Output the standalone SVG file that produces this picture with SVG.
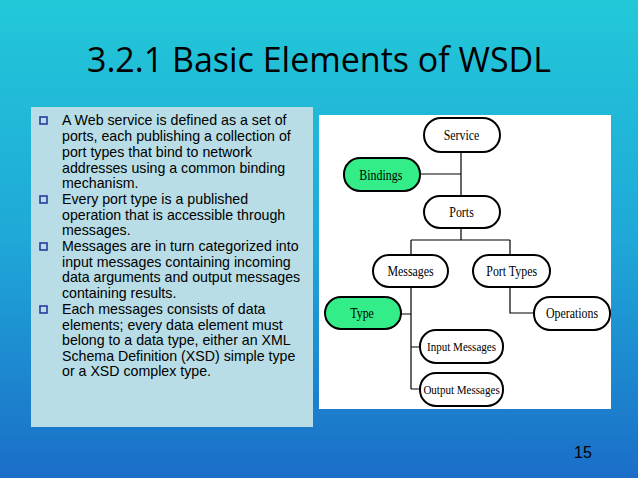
<svg xmlns="http://www.w3.org/2000/svg" width="638" height="478" viewBox="0 0 638 478">
<defs>
<linearGradient id="bg" x1="0" y1="0" x2="0" y2="1">
<stop offset="0" stop-color="#22c8d8"/><stop offset="0.5" stop-color="#1fa8d8"/><stop offset="1" stop-color="#1b6ec8"/>
</linearGradient>
</defs>
<style>
.n rect{fill:#fff;stroke:#000;stroke-width:2}
.g rect{fill:#33ee88}
.n text{font-family:"Liberation Serif",serif;font-size:14px;text-anchor:middle;transform:scaleX(0.85)}
.n text.s{font-size:13px}
.b{font-family:"Liberation Sans",sans-serif;font-size:14.2px;fill:#000}
.q{fill:none;stroke:#2a3aa0;stroke-width:1.6}
#c path{stroke:#000;stroke-width:1.2;fill:none}
</style>
<rect width="638" height="478" fill="url(#bg)"/>
<text x="319" y="72" font-family="Open Sans,sans-serif" font-size="34" text-anchor="middle" fill="#000">3.2.1 Basic Elements of WSDL</text>
<rect x="31" y="107" width="282" height="320" fill="#b8dde6"/>
<rect x="319" y="115" width="292" height="294" fill="#fff"/>
<g class="b">
<text x="62" y="125">A Web service is defined as a set of</text>
<text x="62" y="141">ports, each publishing a collection of</text>
<text x="62" y="157">port types that bind to network</text>
<text x="62" y="173">addresses using a common binding</text>
<text x="62" y="188">mechanism.</text>
<text x="62" y="204">Every port type is a published</text>
<text x="62" y="220">operation that is accessible through</text>
<text x="62" y="235">messages.</text>
<text x="62" y="251">Messages are in turn categorized into</text>
<text x="62" y="267">input messages containing incoming</text>
<text x="62" y="282">data arguments and output messages</text>
<text x="62" y="298">containing results.</text>
<text x="62" y="314">Each messages consists of data</text>
<text x="62" y="330">elements; every data element must</text>
<text x="62" y="345">belong to a data type, either an XML</text>
<text x="62" y="361">Schema Definition (XSD) simple type</text>
<text x="62" y="376">or a XSD complex type.</text>
</g>
<rect class="q" x="40" y="117" width="7" height="7"/>
<rect class="q" x="40" y="196" width="7" height="7"/>
<rect class="q" x="40" y="243" width="7" height="7"/>
<rect class="q" x="40" y="306" width="7" height="7"/>
<g id="c">
<path d="M461 152V196M420 174H461M461 228V240M411 240H510M411 240V255M510 240V255M411 287V389M401 314H411M411 347H420M411 389H420M510 287V313H534"/>
</g>
<g id="service" class="n"><rect x="424" y="118" width="76" height="34" rx="17"/><text x="543" y="140">Service</text></g>
<g id="bindings" class="n g"><rect x="344" y="158" width="76" height="33" rx="16"/><text x="448" y="180">Bindings</text></g>
<g id="ports" class="n"><rect x="424" y="196" width="76" height="32" rx="16"/><text x="543" y="217">Ports</text></g>
<g id="messages" class="n"><rect x="373" y="255" width="75" height="32" rx="16"/><text x="483" y="276">Messages</text></g>
<g id="porttypes" class="n"><rect x="473" y="255" width="77" height="32" rx="16"/><text x="602" y="276">Port Types</text></g>
<g id="type" class="n g"><rect x="325" y="297" width="76" height="32" rx="16"/><text x="426" y="318">Type</text></g>
<g id="operations" class="n"><rect x="534" y="297" width="76" height="33" rx="16"/><text x="673" y="318">Operations</text></g>
<g id="input" class="n"><rect x="420" y="330" width="83" height="33" rx="16"/><text class="s" x="543" y="351">Input Messages</text></g>
<g id="output" class="n"><rect x="420" y="373" width="83" height="33" rx="16"/><text class="s" x="543" y="394">Output Messages</text></g>
<text x="583" y="458" font-family="Liberation Sans,sans-serif" font-size="16" text-anchor="middle">15</text>
</svg>
